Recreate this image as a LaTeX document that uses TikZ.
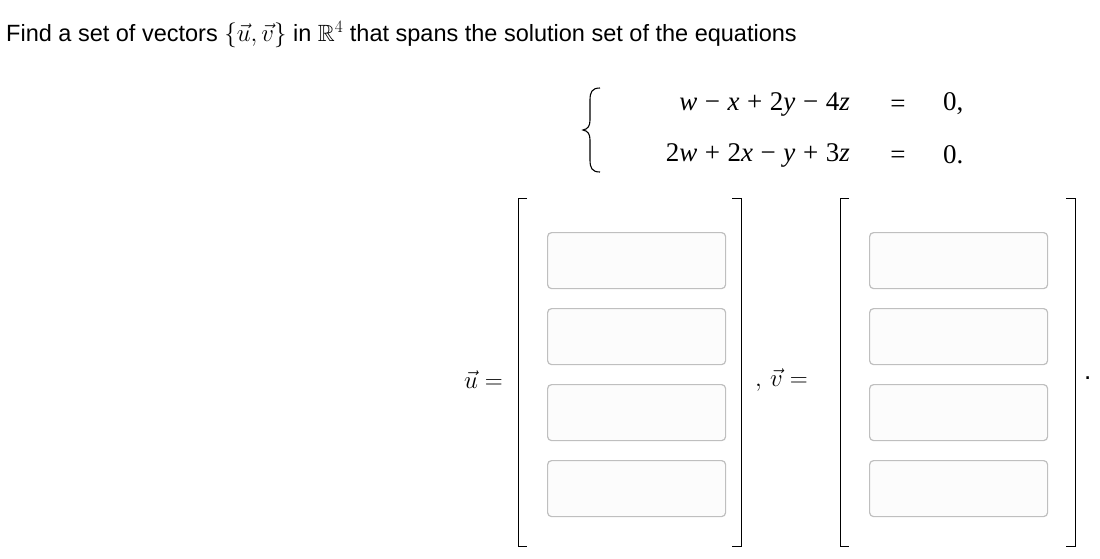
\documentclass[tikz,border=0pt]{standalone}
\usepackage{amssymb}
\usepackage{fontspec}
\setmainfont{Liberation Sans}
\newfontfamily\ser{Liberation Serif}
\newcommand\eqsp{\hspace{0.28em}}
\begin{document}
\begin{tikzpicture}[x=1pt,y=-1pt,
  ansbox/.style={draw=black!25,fill=black!1,rounded corners=4pt,line width=1.2pt},
  brk/.style={line width=1pt},
  eq/.style={font=\ser\fontsize{27}{29}\selectfont,inner sep=0pt}]
\useasboundingbox (0,0) rectangle (1100,558);
\node[anchor=west,inner sep=0pt,font=\fontsize{23.5}{26}\selectfont] (title) at (6,35)
  {Find a set of vectors $\bigl\{\vec u,\vec v\bigr\}$ in $\mathbb{R}^4$ that spans the solution set of the equations};
% system
\node[eq,anchor=east] (e1) at (850,104) {\textit{w}\eqsp−\eqsp\textit{x}\eqsp+\eqsp2\textit{y}\eqsp−\eqsp4\textit{z}};
\node[eq,anchor=east] (e2) at (850,155) {2\textit{w}\eqsp+\eqsp2\textit{x}\eqsp−\eqsp\textit{y}\eqsp+\eqsp3\textit{z}};
\node[eq] (q1) at (898,106) {=};
\node[eq] (q2) at (898,157) {=};
\node[eq,anchor=west] (r1) at (943,104) {0,};
\node[eq,anchor=west] (r2) at (943,155) {0.};
\draw[line width=1.1pt] (600,88) .. controls (592,88) and (590,92) .. (590,100) -- (590,120)
  .. controls (590,126) and (588,129) .. (583,130) .. controls (588,131) and (590,134) .. (590,140)
  -- (590,160) .. controls (590,168) and (592,172) .. (600,172);
% vector u
\node[inner sep=0pt,font=\fontsize{28}{30}\selectfont,anchor=east] (ul) at (503,380) {$\vec u =$};
\draw[brk] (527,198) -- (518,198) -- (518,546) -- (527,546);
\draw[brk] (732,198) -- (741,198) -- (741,546) -- (732,546);
\foreach \y [count=\i] in {232,308,384,460}{
  \node[ansbox,minimum width=178pt,minimum height=56pt,anchor=north west] (u\i) at (547,\y) {};
  \node[ansbox,minimum width=178pt,minimum height=56pt,anchor=north west] (v\i) at (869,\y) {};
}
\node[inner sep=0pt,font=\fontsize{28}{30}\selectfont,anchor=west] (vl) at (755,380) {$,\,\vec v =$};
\draw[brk] (849,198) -- (840,198) -- (840,546) -- (849,546);
\draw[brk] (1066,198) -- (1075,198) -- (1075,546) -- (1066,546);
\node[inner sep=0pt,font=\fontsize{26}{28}\selectfont,anchor=west] (dot) at (1084,378) {.};
\end{tikzpicture}
\end{document}
